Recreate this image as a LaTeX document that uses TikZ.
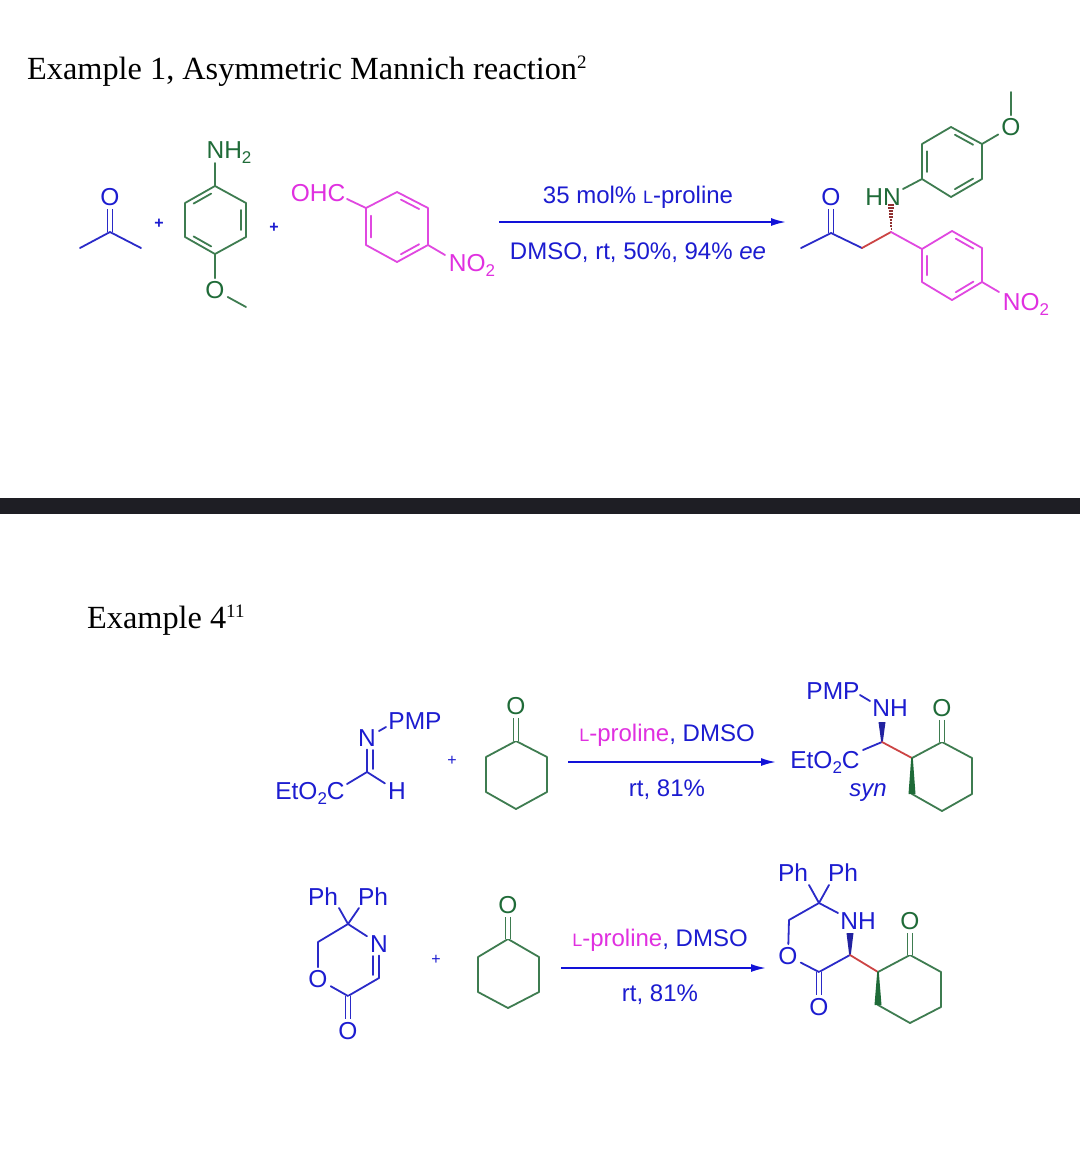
\documentclass[tikz,border=0pt]{standalone}
\usepackage{fontspec}
\setmainfont{Liberation Sans}
\newfontfamily\serifttl{Liberation Serif}
\usetikzlibrary{calc,arrows.meta}
\definecolor{cblue}{HTML}{2A2AC8}
\definecolor{tblue}{HTML}{1C1CD0}
\definecolor{cgreen}{HTML}{3E7C50}
\definecolor{tgreen}{HTML}{1F6B38}
\definecolor{cpink}{HTML}{E048E0}
\definecolor{tpink}{HTML}{E030E0}
\definecolor{cred}{HTML}{CC4444}
\definecolor{arrowblue}{HTML}{1212D8}
\definecolor{barcol}{HTML}{1E1E24}
\newcommand{\chemsz}{\fontsize{24.5}{24.5}\selectfont}
\newcommand{\condsz}{\fontsize{24}{24}\selectfont}
\newcommand{\subt}[1]{\raisebox{-5pt}{\fontsize{17}{17}\selectfont #1}}
\newcommand{\smallL}{{\fontsize{18}{18}\selectfont L}}
\newcommand{\dbl}[4][]{\draw[#1] ($($(#2)!.15!(#3)$)!.16!(#4)$) -- ($($(#3)!.15!(#2)$)!.16!(#4)$);}
\newcommand{\hexat}[7]{\coordinate (#1a) at (#2); \coordinate (#1b) at (#3); \coordinate (#1c) at (#4); \coordinate (#1d) at (#5); \coordinate (#1e) at (#6); \coordinate (#1f) at (#7); \coordinate (#1m) at ($(#1a)!.5!(#1d)$);}
\newcommand{\hexdraw}[2]{\draw[#2] (#1a) -- (#1b) -- (#1c) -- (#1d) -- (#1e) -- (#1f) -- cycle;}
\tikzset{
  bl/.style={cblue,line width=1.8pt,line cap=round,line join=round},
  gr/.style={cgreen,line width=1.8pt,line cap=round,line join=round},
  pk/.style={cpink,line width=1.8pt,line cap=round,line join=round},
  rd/.style={cred,line width=1.8pt,line cap=round},
  co/.style={double,double distance=3.5pt,line width=1.5pt},
  atom/.style={inner sep=3pt,font=\chemsz},
  lblue/.style={atom,text=tblue},
  lgreen/.style={atom,text=tgreen},
  lpink/.style={atom,text=tpink},
  rxn/.style={-{Latex[length=15pt,width=8pt]},arrowblue,line width=1.8pt},
  cond/.style={inner sep=0pt,font=\condsz,text=tblue},
  plus/.style={inner sep=0pt,font=\fontsize{16}{16}\selectfont\bfseries,text=tblue},
  ttl/.style={inner sep=0pt,anchor=base west,font=\serifttl\fontsize{32.3}{32.3}\selectfont,text=black}
}
\begin{document}
\begin{tikzpicture}[x=1pt,y=-1pt]
\useasboundingbox (0,0) rectangle (1080,1176);
\fill[white] (0,0) rectangle (1080,1176);
\fill[barcol] (0,498) rectangle (1080,514);

\node[ttl] (title1) at (27,79) {Example 1, Asymmetric Mannich reaction\raisebox{11pt}{\fontsize{19}{19}\selectfont 2}};
\node[ttl] (title4) at (87,628) {Example 4\raisebox{11pt}{\fontsize{19}{19}\selectfont 11}};

% ---- acetone
\node[lblue] (o1) at (110,197) {O};
\coordinate (ac) at (110,232); \coordinate (al) at (80,248); \coordinate (ar) at (141,248);
\draw[bl,co,line cap=butt] (o1) -- (ac);
\draw[bl] (al) -- (ac) -- (ar);
\node[plus] (p1) at (159,224) {+};

% ---- anisidine
\hexat{A}{215,186}{246,203}{246,237}{215,254}{185,237}{185,203}
\hexdraw{A}{gr}
\dbl[gr]{Af}{Aa}{Am}\dbl[gr]{Ab}{Ac}{Am}\dbl[gr]{Ae}{Ad}{Am}
\node[lgreen] (nh2) at (229,153) {NH\subt{2}};
\coordinate (nh2b) at (215,163);
\draw[gr] (Aa) -- (nh2b);
\node[lgreen] (oa) at (215,290) {O};
\coordinate (mea) at (246,307);
\draw[gr] (Ad) -- (oa);
\draw[gr] (oa) -- (mea);
\node[plus] (p2) at (274,228) {+};

% ---- nitrobenzaldehyde
\hexat{B}{397,192}{428,208}{428,245}{397,262}{366,245}{366,208}
\hexdraw{B}{pk}
\dbl[pk]{Ba}{Bb}{Bm}\dbl[pk]{Bc}{Bd}{Bm}\dbl[pk]{Be}{Bf}{Bm}
\node[lpink] (ohc) at (318,193) {OHC};
\coordinate (ohcb) at (347,199);
\draw[pk] (ohcb) -- (Bf);
\node[lpink] (no2a) at (472,265) {NO\subt{2}};
\coordinate (no2ab) at (445,255);
\draw[pk] (Bc) -- (no2ab);

% ---- arrow 1
\coordinate (r1s) at (499,222); \coordinate (r1e) at (786,222);
\draw[rxn] (r1s) -- (r1e);
\node[cond] (c1a) at (638,197) {35 mol\% \smallL-proline};
\node[cond] (c1b) at (638,253) {DMSO, rt, 50\%, 94\% \textit{ee}};

% ---- product 1
\node[lblue] (o2) at (831,197) {O};
\coordinate (pc) at (831,233); \coordinate (pl) at (801,248); \coordinate (pr) at (862,248); \coordinate (ps) at (891,232);
\draw[bl,co,line cap=butt] (o2) -- (pc);
\draw[bl] (pl) -- (pc) -- (pr);
\draw[rd] (pr) -- (ps);
\hexat{C}{952,231}{982,248}{982,282}{952,300}{922,282}{922,249}
\hexdraw{C}{pk}
\dbl[pk]{Ca}{Cb}{Cm}\dbl[pk]{Cc}{Cd}{Cm}\dbl[pk]{Ce}{Cf}{Cm}
\draw[pk] (ps) -- (Cf);
\node[lpink] (no2b) at (1026,304) {NO\subt{2}};
\coordinate (no2bb) at (999,292);
\draw[pk] (Cc) -- (no2bb);
\node[lgreen] (hn) at (883,197) {HN};
\coordinate (hnb) at (903,189);
\hexat{D}{951,127}{982,144}{982,179}{951,197}{922,179}{922,144}
\hexdraw{D}{gr}
\dbl[gr]{Da}{Db}{Dm}\dbl[gr]{Dc}{Dd}{Dm}\dbl[gr]{De}{Df}{Dm}
\draw[gr] (hnb) -- (De);
\node[lgreen] (ob) at (1011,127) {O};
\coordinate (meb) at (1011,92);
\draw[gr] (Db) -- (ob);
\draw[gr] (ob) -- (meb);
\foreach \i in {0,...,8}
  \draw[cred!70!black,line width=1.1pt] ($(ps)+({-0.5-0.3*\i},{-3-3*\i})$) -- ($(ps)+({0.5+0.3*\i},{-3-3*\i})$);

% ---- imine
\node[lblue] (pmp1) at (415,721) {PMP};
\node[lblue] (n1) at (367,738) {N};
\coordinate (n1r) at (379,731);
\coordinate (pmp1b) at (386,727);
\draw[bl] (n1r) -- (pmp1b);
\coordinate (ic) at (367,772);
\draw[bl] (n1) -- (ic);
\draw[bl] ($(n1)+(6,12)$) -- ($(ic)+(6,-3)$);
\node[lblue] (eto1) at (310,793) {EtO\subt{2}C};
\coordinate (eto1b) at (347,784);
\draw[bl] (eto1b) -- (ic);
\node[lblue] (h1) at (397,791) {H};
\draw[bl] (ic) -- (h1);
\node[plus,font=\fontsize{16}{16}\selectfont] (p3) at (452,761) {+};

% ---- cyclohexanone 1
\hexat{E}{516,741}{547,757}{547,792}{516,809}{486,792}{486,757}
\hexdraw{E}{gr}
\node[lgreen] (oe) at (516,706) {O};
\draw[gr,co,line cap=butt] (oe) -- (Ea);

% ---- arrow 2
\coordinate (r2s) at (568,762); \coordinate (r2e) at (776,762);
\draw[rxn] (r2s) -- (r2e);
\node[cond] (c2a) at (667,735) {\textcolor{tpink}{\smallL-proline}, DMSO};
\node[cond] (c2b) at (667,790) {rt, 81\%};

% ---- product 2
\node[lblue] (pmp2) at (833,691) {PMP};
\node[lblue] (nh1) at (890,708) {NH};
\coordinate (pmp2b) at (860,695); \coordinate (nh1b) at (870,701);
\draw[bl] (pmp2b) -- (nh1b);
\coordinate (pc2) at (882,742); \coordinate (nh1w) at (882,722);
\fill[cblue!80!black] ($(pc2)+(-.8,0)$) -- ($(nh1w)+(-3.5,0)$) -- ($(nh1w)+(3.5,0)$) -- ($(pc2)+(.8,0)$) -- cycle;
\node[lblue] (eto2) at (825,762) {EtO\subt{2}C};
\coordinate (eto2b) at (863,750);
\draw[bl] (eto2b) -- (pc2);
\hexat{F}{942,742}{972,758}{972,794}{942,811}{912,794}{912,758}
\draw[rd] (pc2) -- (Ff);
\hexdraw{F}{gr}
\node[lgreen] (of) at (942,708) {O};
\draw[gr,co,line cap=butt] (of) -- (Fa);
\fill[tgreen] ($(Ff)+(-.8,0)$) -- ($(Fe)+(-3.5,0)$) -- ($(Fe)+(3.5,0)$) -- ($(Ff)+(.8,0)$) -- cycle;
\node[cond] (syn) at (868,793) {\textit{syn}};

% ---- oxazinone
\node[lblue] (ph1) at (323,897) {Ph};
\node[lblue] (ph2) at (373,897) {Ph};
\coordinate (g1) at (348,924);
\coordinate (ph1b) at (339,908); \coordinate (ph2b) at (359,908);
\draw[bl] (g1) -- (ph1b); \draw[bl] (g1) -- (ph2b);
\node[lblue] (n2) at (379,944) {N};
\coordinate (g2) at (379,978); \coordinate (g3) at (348,996); \coordinate (g5) at (318,942);
\node[lblue] (o3) at (318,979) {O};
\node[lblue] (o4) at (348,1031) {O};
\draw[bl] (g1) -- (n2);
\draw[bl] (n2) -- (g2);
\draw[bl] ($(n2)+(-6,12)$) -- ($(g2)+(-6,-3)$);
\draw[bl] (g2) -- (g3);
\draw[bl,co,line cap=butt] (g3) -- (o4);
\draw[bl] (g3) -- (o3);
\draw[bl] (o3) -- (g5) -- (g1);
\node[plus,font=\fontsize{16}{16}\selectfont] (p4) at (436,960) {+};

% ---- cyclohexanone 2
\hexat{G}{508,939}{539,957}{539,992}{508,1008}{478,992}{478,957}
\hexdraw{G}{gr}
\node[lgreen] (og) at (508,905) {O};
\draw[gr,co,line cap=butt] (og) -- (Ga);

% ---- arrow 3
\coordinate (r3s) at (561,968); \coordinate (r3e) at (766,968);
\draw[rxn] (r3s) -- (r3e);
\node[cond] (c3a) at (660,940) {\textcolor{tpink}{\smallL-proline}, DMSO};
\node[cond] (c3b) at (660,995) {rt, 81\%};

% ---- product 3
\node[lblue] (ph3) at (793,873) {Ph};
\node[lblue] (ph4) at (843,873) {Ph};
\coordinate (q1) at (819,903);
\coordinate (ph3b) at (809,885); \coordinate (ph4b) at (829,885);
\draw[bl] (q1) -- (ph3b); \draw[bl] (q1) -- (ph4b);
\node[lblue] (nh2b) at (858,921) {NH};
\coordinate (nh2bb) at (838,913);
\draw[bl] (q1) -- (nh2bb);
\coordinate (q2) at (850,955); \coordinate (nh2w) at (850,933);
\fill[cblue!80!black] ($(q2)+(-.8,0)$) -- ($(nh2w)+(-3.5,0)$) -- ($(nh2w)+(3.5,0)$) -- ($(q2)+(.8,0)$) -- cycle;
\coordinate (q3) at (819,972); \coordinate (q5) at (789,920);
\node[lblue] (o5) at (788,956) {O};
\node[lblue] (o6) at (819,1007) {O};
\draw[bl] (q2) -- (q3);
\draw[bl,co,line cap=butt] (q3) -- (o6);
\draw[bl] (q3) -- (o5);
\draw[bl] (o5) -- (q5) -- (q1);
\hexat{H}{910,955}{941,972}{941,1007}{910,1023}{878,1005}{878,972}
\draw[rd] (q2) -- (Hf);
\hexdraw{H}{gr}
\node[lgreen] (oh) at (910,921) {O};
\draw[gr,co,line cap=butt] (oh) -- (Ha);
\fill[tgreen] ($(Hf)+(-.8,0)$) -- ($(He)+(-3.5,0)$) -- ($(He)+(3.5,0)$) -- ($(Hf)+(.8,0)$) -- cycle;
\end{tikzpicture}
\end{document}
